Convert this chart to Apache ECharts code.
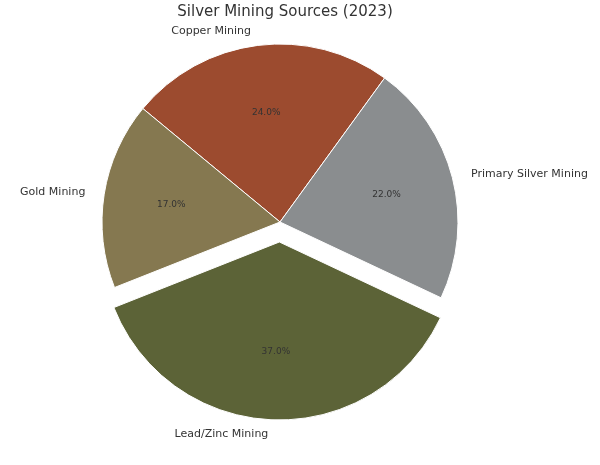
<!DOCTYPE html>
<html>
<head>
<meta charset="utf-8">
<script src="https://cdn.jsdelivr.net/npm/echarts@6/dist/echarts.min.js"></script>
<style>html,body{margin:0;padding:0;background:#fff}#chart{width:600px;height:465px}</style>
</head>
<body>
<div id="chart"></div>
<script>
// data, clockwise from the top-left edge
const sources = ['Copper Mining', 'Primary Silver Mining', 'Lead/Zinc Mining', 'Gold Mining'];
const shares = [24, 22, 37, 17];
const colors = ['#9c4b2f', '#8a8d8f', '#5c6337', '#857850'];
const exploded = 'Lead/Zinc Mining';

const chart = echarts.init(document.getElementById('chart'));

const items = sources.map((name, i) => ({
  name: name,
  value: shares[i],
  selected: name === exploded,
  itemStyle: { color: colors[i] }
}));

const common = {
  type: 'pie',
  center: [280, 222],
  startAngle: 140.4,
  clockwise: true,
  selectedMode: 'multiple',
  selectedOffset: 20,
  animation: false,
  emphasis: { disabled: true }
};

chart.setOption({
  backgroundColor: '#fff',
  title: {
    text: 'Silver Mining Sources (2023)',
    left: 280,
    textAlign: 'center',
    top: 0,
    textStyle: { fontFamily: 'DejaVu Sans', fontSize: 15, fontWeight: 'normal', color: '#333' }
  },
  series: [
    Object.assign({}, common, {
      radius: [0, 178],
      data: items,
      itemStyle: { borderColor: '#fff', borderWidth: 1 },
      label: {
        show: true,
        position: 'outside',
        formatter: '{b}',
        fontFamily: 'DejaVu Sans',
        fontSize: 11,
        color: '#333'
      },
      labelLine: { show: false, length: 14, length2: 0 }
    }),
    Object.assign({}, common, {
      radius: [36, 178],
      silent: true,
      data: items.map(d => Object.assign({}, d, { itemStyle: { color: 'rgba(0,0,0,0)' } })),
      label: {
        show: true,
        position: 'inside',
        formatter: p => p.value.toFixed(1) + '%',
        fontFamily: 'DejaVu Sans',
        fontSize: 9,
        color: '#333'
      },
      labelLine: { show: false }
    })
  ]
});
</script>
</body>
</html>
